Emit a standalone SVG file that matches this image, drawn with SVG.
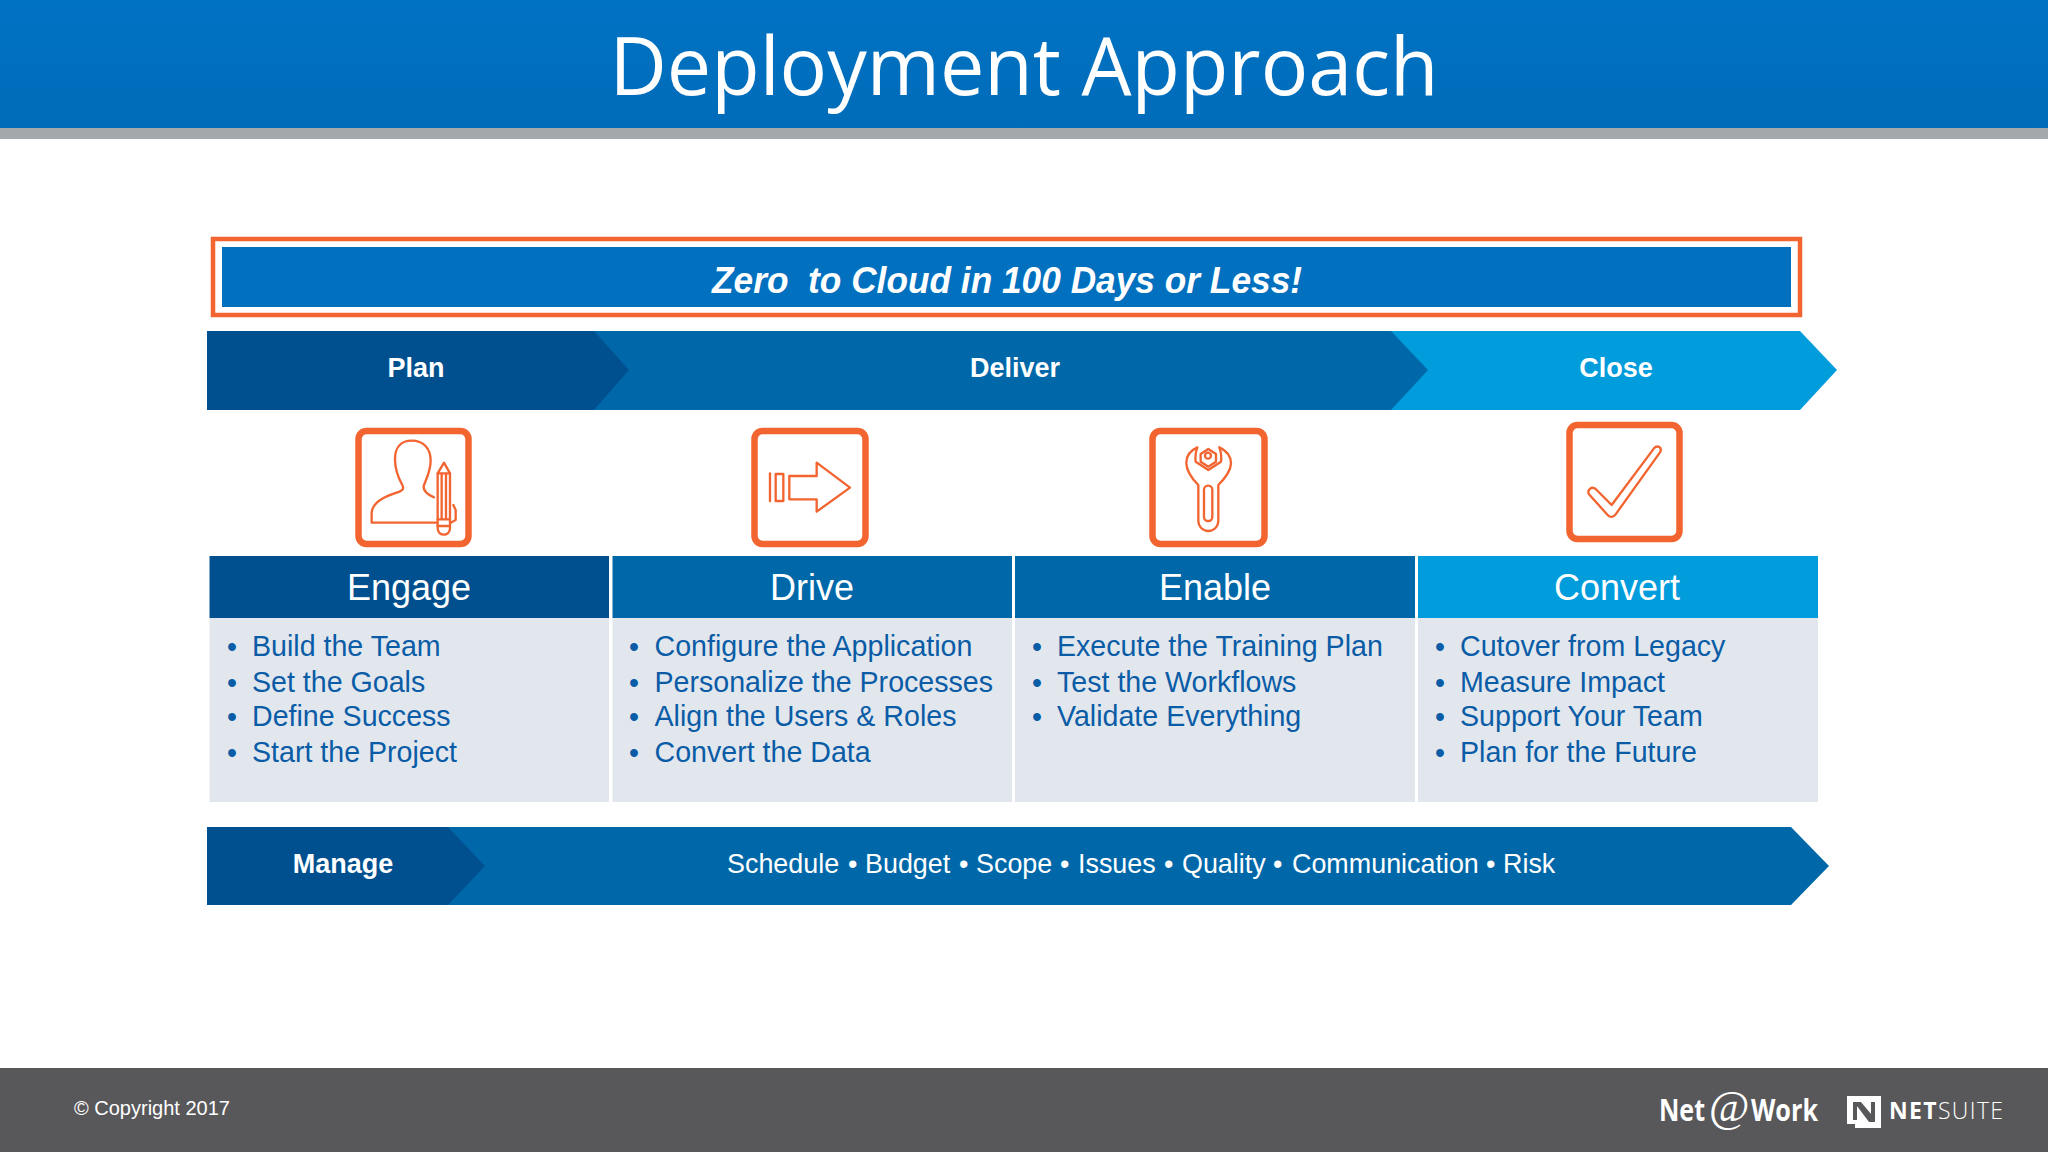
<svg xmlns="http://www.w3.org/2000/svg" width="2048" height="1152" viewBox="0 0 2048 1152">
<style>
text{font-family:"Liberation Sans",Arial,sans-serif}
.w{fill:#fff}
.bar{font-size:27px;font-weight:bold;fill:#fff;text-anchor:middle}
.hd{font-size:36px;fill:#fff;text-anchor:middle}
.li{font-size:28.600px;fill:#0a5ca6}
.sub{font-size:26.900px;fill:#fff}
.box{fill:#fff;stroke:#f26430;stroke-width:6.500}
.ic{fill:none;stroke:#f26430;stroke-width:7;stroke-linejoin:round;stroke-linecap:round}
.body{fill:#e2e7ee}
.dk{fill:#00508f}
.md{fill:#0068a9}
.lt{fill:#009cdc}
.logo{font-family:"Open Sans",sans-serif;font-size:31px;font-weight:700;fill:#fff}
</style>
<defs>
<linearGradient id="hg" x1="0" y1="0" x2="0" y2="1"><stop offset="0" stop-color="#0072c3"/><stop offset="1" stop-color="#006cb9"/></linearGradient>
</defs>
<rect width="2048" height="1152" fill="#fff"/>
<g id="header">
<rect width="2048" height="128" fill="url(#hg)"/>
<rect y="128" width="2048" height="11" fill="#a5a8ab"/>
<text x="1024" y="95" text-anchor="middle" style="font-family:'Open Sans',sans-serif;font-size:80px" class="w" textLength="829" lengthAdjust="spacingAndGlyphs">Deployment Approach</text>
</g>
<g id="banner">
<rect x="213" y="239" width="1587" height="76" fill="#fff" stroke="#f26430" stroke-width="4.500"/>
<rect x="222" y="247" width="1569" height="60" fill="#0070bf"/>
<text x="1007" y="293" text-anchor="middle" font-size="36" font-weight="bold" font-style="italic" class="w" xml:space="preserve" textLength="590" lengthAdjust="spacingAndGlyphs">Zero  to Cloud in 100 Days or Less!</text>
</g>
<g id="close-phase">
<polygon class="lt" points="1391,331 1800,331 1837,370 1800,410 1391,410"/>
<text class="bar" x="1616" y="377">Close</text>
</g>
<g id="deliver-phase">
<polygon class="md" points="594,331 1391,331 1428,370 1391,410 594,410"/>
<text class="bar" x="1015" y="377">Deliver</text>
</g>
<g id="plan-phase">
<polygon class="dk" points="207,331 594,331 629,370 594,410 207,410"/>
<text class="bar" x="416" y="377">Plan</text>
</g>
<g id="icon-engage">
<rect class="box" x="358.500" y="431" width="110" height="113" rx="8"/>
<g transform="translate(340 420) scale(.3333)" class="ic">
<path d="M290 308H95V278C97 250 125 232 170 218C190 212 192 205 187 195C170 165 165 145 165 118C165 80 185 62 215 62C250 62 272 85 272 122C272 150 262 170 252 195C248 208 258 222 282 232"/>
<path d="M340 255L347 270V300L332 308"/>
<path d="M293 160L312 128L330 160V325C330 350 293 350 293 325Z"/>
<path d="M293 160H330M305 162V298M318 162V298M293 298H330M293 318H330"/>
</g>
</g>
<g id="icon-drive">
<rect class="box" x="754.500" y="431" width="111" height="113" rx="8"/>
<g transform="translate(740 420) scale(.3333)" class="ic">
<path d="M148 168H230V128L330 203L230 275V238H148Z"/>
<rect x="107" y="162" width="23" height="81"/>
<path d="M90 160V243"/>
</g>
</g>
<g id="icon-enable">
<rect class="box" x="1152.500" y="431" width="112" height="113" rx="8"/>
<g transform="translate(1135 420) scale(.3333)" class="ic">
<path d="M187 82C165 92 153 108 154 130C155 155 170 175 190 195V300C190 322 205 333 220 333C235 333 250 322 250 300V195C270 175 287 155 288 130C288 108 275 92 253 82C258 95 260 110 258 125L220 150L182 125C180 110 182 95 187 82Z"/>
<path d="M197 102L220 87L243 102V125L220 140L197 125Z"/>
<circle cx="219" cy="107" r="9"/>
<rect x="207" y="197" width="25" height="106" rx="12"/>
</g>
</g>
<g id="icon-convert">
<rect class="box" x="1569.500" y="425" width="110" height="114" rx="8"/>
<g transform="translate(1550 415) scale(.3333)" class="ic">
<path d="M117 238C110 225 125 212 137 222L185 270L312 100C322 88 338 98 330 112L197 298C190 308 180 308 173 300Z"/>
</g>
</g>
<g id="engage">
<rect class="body" x="209.500" y="618" width="399.500" height="184"/>
<rect class="dk" x="209.500" y="556" width="399.500" height="62"/>
<text class="hd" x="409" y="600">Engage</text>
<text class="li" x="227" y="657">•</text><text class="li" x="252" y="656">Build the Team</text>
<text class="li" x="227" y="693">•</text><text class="li" x="252" y="692">Set the Goals</text>
<text class="li" x="227" y="727">•</text><text class="li" x="252" y="726">Define Success</text>
<text class="li" x="227" y="763">•</text><text class="li" x="252" y="762">Start the Project</text>
</g>
<g id="drive">
<rect class="body" x="612.500" y="618" width="399.500" height="184"/>
<rect class="md" x="612.500" y="556" width="399.500" height="62"/>
<text class="hd" x="812" y="600">Drive</text>
<text class="li" x="629" y="657">•</text><text class="li" x="654.500" y="656">Configure the Application</text>
<text class="li" x="629" y="693">•</text><text class="li" x="654.500" y="692">Personalize the Processes</text>
<text class="li" x="629" y="727">•</text><text class="li" x="654.500" y="726">Align the Users &amp; Roles</text>
<text class="li" x="629" y="763">•</text><text class="li" x="654.500" y="762">Convert the Data</text>
</g>
<g id="enable">
<rect class="body" x="1015" y="618" width="400" height="184"/>
<rect class="md" x="1015" y="556" width="400" height="62"/>
<text class="hd" x="1215" y="600">Enable</text>
<text class="li" x="1032" y="657">•</text><text class="li" x="1057" y="656">Execute the Training Plan</text>
<text class="li" x="1032" y="693">•</text><text class="li" x="1057" y="692">Test the Workflows</text>
<text class="li" x="1032" y="727">•</text><text class="li" x="1057" y="726">Validate Everything</text>
</g>
<g id="convert">
<rect class="body" x="1418" y="618" width="400" height="184"/>
<rect class="lt" x="1418" y="556" width="400" height="62"/>
<text class="hd" x="1617" y="600">Convert</text>
<text class="li" x="1435" y="657">•</text><text class="li" x="1460" y="656">Cutover from Legacy</text>
<text class="li" x="1435" y="693">•</text><text class="li" x="1460" y="692">Measure Impact</text>
<text class="li" x="1435" y="727">•</text><text class="li" x="1460" y="726">Support Your Team</text>
<text class="li" x="1435" y="763">•</text><text class="li" x="1460" y="762">Plan for the Future</text>
</g>
<g id="manage-items">
<polygon class="md" points="448,827 1791,827 1829,866 1791,905 448,905"/>
<text class="sub" x="727" y="873">Schedule <tspan x="848">•</tspan> <tspan x="865">Budget</tspan> <tspan x="959">•</tspan> <tspan x="976">Scope</tspan> <tspan x="1060">•</tspan> <tspan x="1078">Issues</tspan> <tspan x="1164">•</tspan> <tspan x="1182">Quality</tspan> <tspan x="1273">•</tspan> <tspan x="1292">Communication</tspan> <tspan x="1486">•</tspan> <tspan x="1503">Risk</tspan></text>
</g>
<g id="manage">
<polygon class="dk" points="207,827 448,827 485,866 448,905 207,905"/>
<text class="bar" x="343" y="873">Manage</text>
</g>
<g id="footer">
<rect y="1068" width="2048" height="84" fill="#58585a"/>
<text x="74" y="1115" font-size="20" class="w">© Copyright 2017</text>
<text class="logo" x="1659" y="1121" textLength="46" lengthAdjust="spacingAndGlyphs">Net</text>
<text x="1729" y="1121" text-anchor="middle" font-size="44" fill="#fff" style="font-family:'Liberation Serif',serif;font-style:italic">@</text>
<text class="logo" x="1751" y="1121" textLength="67" lengthAdjust="spacingAndGlyphs">Work</text>
<path fill="#fff" fill-rule="evenodd" d="M1847 1096H1881V1128H1855V1124H1847ZM1853 1102V1120H1857V1106L1869 1122H1875V1102H1871V1114L1861 1102Z"/>
<text x="1889" y="1119" font-size="23" fill="#fff" style="font-family:'Open Sans',sans-serif" textLength="114"><tspan font-weight="700">NET</tspan><tspan font-weight="300">SUITE</tspan></text>
</g>
</svg>
